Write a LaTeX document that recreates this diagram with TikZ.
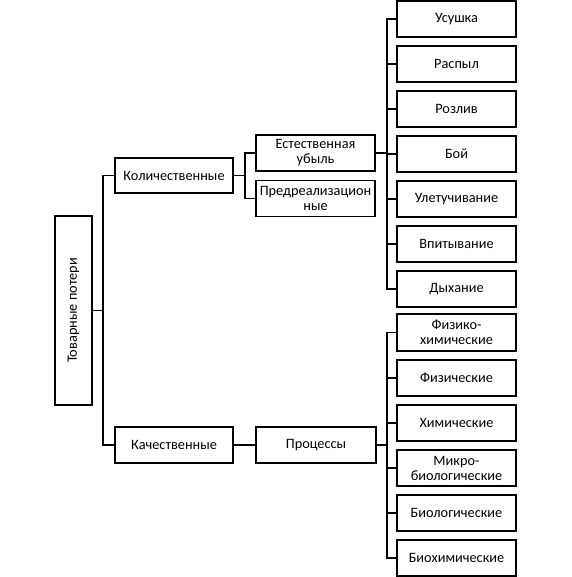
\documentclass[tikz,border=0pt]{standalone}
\usepackage{fontspec}
\setmainfont{Carlito}
\begin{document}
\begin{tikzpicture}[x=1pt,y=-1pt,
  box/.style={draw,line width=1.8pt,inner sep=1pt,align=center,font=\fontsize{14.3}{15}\selectfont},
  conn/.style={line width=1.8pt}]
\useasboundingbox (0,0) rectangle (571,577);
\node[box,minimum width=37pt,minimum height=189pt] (root) at (73.5,310.5) {};
\node[rotate=90,font=\fontsize{14.3}{15}\selectfont] (rootlbl) at (root.center) {Товарные потери};
\node[box,minimum width=118pt,minimum height=35pt] (kol) at (174,175.5) {Количественные};
\node[box,minimum width=118pt,minimum height=36pt] (kach) at (174,445) {Качественные};
\node[box,minimum width=119pt,minimum height=36pt] (est) at (315.5,153) {Естественная\\убыль};
\node[box,minimum width=119pt,minimum height=36pt] (pred) at (315.5,198.5) {Предреализацион\\ные};
\node[box,minimum width=120pt,minimum height=36pt] (proc) at (316,445) {Процессы};
\foreach \n/\t [count=\i] in {a1/Усушка,a2/Распыл,a3/Розлив,a4/Бой,a5/Улетучивание,a6/Впитывание,a7/Дыхание}{
  \node[box,minimum width=119pt,minimum height=36pt] (\n) at (456.5,{19+45*(\i-1)}) {\t};
}
\node[box,minimum width=119pt,minimum height=37pt] (b1) at (456.5,332.5) {Физико-\\химические};
\node[box,minimum width=119pt,minimum height=36pt] (b2) at (456.5,378) {Физические};
\node[box,minimum width=119pt,minimum height=36pt] (b3) at (456.5,423) {Химические};
\node[box,minimum width=119pt,minimum height=36pt] (b4) at (456.5,468) {Микро-\\биологические};
\node[box,minimum width=119pt,minimum height=36pt] (b5) at (456.5,513) {Биологические};
\node[box,minimum width=119pt,minimum height=36pt] (b6) at (456.5,558) {Биохимические};
\coordinate (t0) at (103,0);
\coordinate (t1) at (245,0);
\coordinate (t2) at (387,0);
% root trunk
\draw[conn] (root.east) -- (root.east -| t0);
\draw[conn] (kol.west) -- (kol.west -| t0) |- (kach.west);
% kol bracket
\draw[conn] (kol.east) -- (kol.east -| t1);
\draw[conn] (est.west) -- (est.west -| t1) |- (pred.west);
% kach - proc
\draw[conn] (kach.east) -- (proc.west);
% upper right trunk
\draw[conn] (est.east) -- (est.east -| t2);
\draw[conn] (a1.west) -- (a1.west -| t2) |- (a7.west);
\foreach \n in {a2,a3,a4,a5,a6}{\draw[conn] (\n.west) -- (\n.west -| t2);}
% lower right trunk
\draw[conn] (proc.east) -- (proc.east -| t2);
\draw[conn] (b1.west) -- (b1.west -| t2) |- (b6.west);
\foreach \n in {b2,b3,b4,b5}{\draw[conn] (\n.west) -- (\n.west -| t2);}
\end{tikzpicture}
\end{document}
